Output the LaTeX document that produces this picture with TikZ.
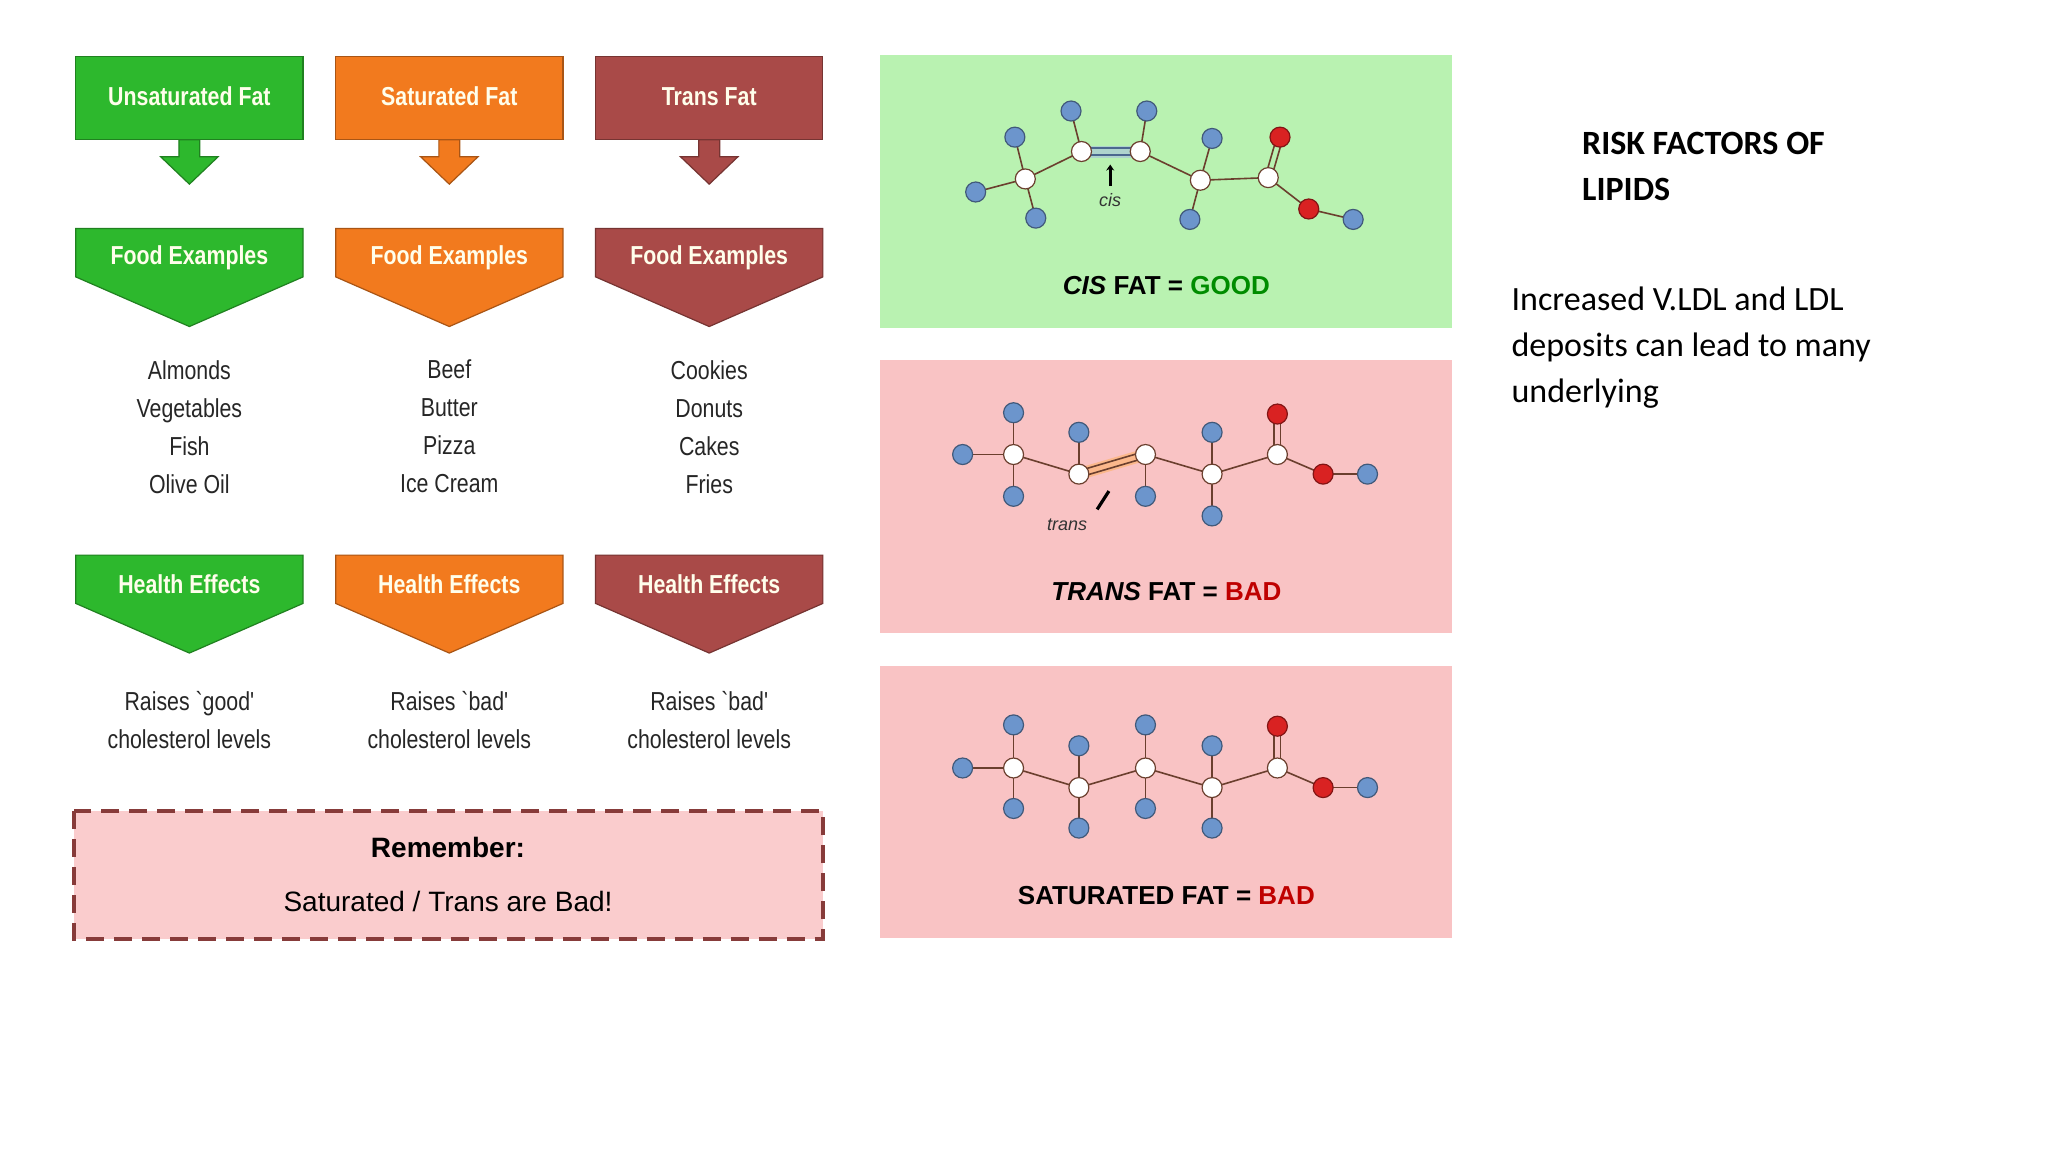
\documentclass[tikz,border=0pt]{standalone}
\usepackage{fontspec}
\usetikzlibrary{arrows.meta}
\setmainfont{Liberation Sans}
\newfontfamily\narrow[FakeStretch=0.82]{Liberation Sans}
\newfontfamily\calib{Carlito}
\definecolor{cgreen}{HTML}{2DB82D}
\definecolor{corange}{HTML}{F27A1E}
\definecolor{cbrown}{HTML}{A94A48}
\definecolor{pgreen}{HTML}{B9F2B1}
\definecolor{ppink}{HTML}{F9C3C4}
\definecolor{hblue}{HTML}{6C95CC}
\definecolor{ored}{HTML}{D92222}
\definecolor{bond}{HTML}{6B3F2E}
\tikzset{
 hat/.style={circle,fill=hblue,draw=hblue!60!black,line width=0.6pt,minimum size=10pt,inner sep=0pt},
 cat/.style={circle,fill=white,draw=bond,line width=0.6pt,minimum size=10pt,inner sep=0pt},
 oat/.style={circle,fill=ored,draw=ored!60!black,line width=0.6pt,minimum size=10pt,inner sep=0pt},
 bd/.style={draw=bond,line width=0.8pt},
 hdr/.style={font=\narrow\bfseries\fontsize{13}{15}\selectfont,text=white!92!yellow},
 item/.style={font=\narrow\fontsize{13}{19}\selectfont,align=center,text=black!85},
 cap/.style={font=\bfseries\fontsize{13}{15}\selectfont}
}
\begin{document}
\begin{tikzpicture}[x=0.653pt,y=-0.653pt]
\useasboundingbox (0,0) rectangle (1568,882);
\fill[white] (0,0) rectangle (1568,882);
% columns
\foreach \c/\col/\ttl/\nm in {145/cgreen/Unsaturated Fat/u,344/corange/Saturated Fat/s,543/cbrown/Trans Fat/t}{
  \fill[\col,draw=\col!70!black,line width=0.6pt] (\c-87,43) rectangle (\c+87,107);
  \node[hdr] (top\nm) at (\c,74) {\ttl};
  \fill[\col,draw=\col!70!black,line width=0.6pt] (\c-8,107) -- (\c-8,120) -- (\c-22,120) -- (\c,141) -- (\c+22,120) -- (\c+8,120) -- (\c+8,107) -- cycle;
  \fill[\col,draw=\col!70!black,line width=0.6pt] (\c-87,175) -- (\c+87,175) -- (\c+87,212) -- (\c,250) -- (\c-87,212) -- cycle;
  \node[hdr] (food\nm) at (\c,197) {Food Examples};
  \fill[\col,draw=\col!70!black,line width=0.6pt] (\c-87,425) -- (\c+87,425) -- (\c+87,462) -- (\c,500) -- (\c-87,462) -- cycle;
  \node[hdr] (hlth\nm) at (\c,447) {Health Effects};
}
\node[item] (lu) at (145,327) {Almonds\\Vegetables\\Fish\\Olive Oil};
\node[item] (ls) at (344,326) {Beef\\Butter\\Pizza\\Ice Cream};
\node[item] (lt) at (543,327) {Cookies\\Donuts\\Cakes\\Fries};
\node[item] (eu) at (145,551) {Raises `good'\\cholesterol levels};
\node[item] (es) at (344,551) {Raises `bad'\\cholesterol levels};
\node[item] (et) at (543,551) {Raises `bad'\\cholesterol levels};
\fill[ppink!85!white] (57,621) rectangle (630,719);
\draw[draw=cbrown!80!black,line width=2pt,dash pattern=on 9pt off 5pt] (57,621) rectangle (630,719);
\node[font=\bfseries\fontsize{14}{16}\selectfont] (rem) at (343,649) {Remember:};
\node[font=\fontsize{14}{16}\selectfont] (rem2) at (343,690) {Saturated / Trans are Bad!};
% panels
\fill[pgreen] (674,42) rectangle (1112,251);
\fill[ppink] (674,276) rectangle (1112,485);
\fill[ppink] (674,510) rectangle (1112,718);
% cis
\foreach \n/\x/\y in {c1/785/137,c2/828/116,c3/873/116,c4/919/138,c5/971/136,h1/747/147,h2/777/105,h3/793/167,h4/820/85,h5/878/85,h6/928/106,h7/911/168,h8/1036/168,o1/980/105,o2/1002/160}
  \coordinate (A\n) at (\x,\y);
\foreach \a/\b in {h1/c1,c1/h2,c1/h3,c1/c2,c2/h4,c3/h5,c3/c4,c4/h6,c4/h7,c4/c5,c5/o2,o2/h8}
  \draw[bd] (A\a) -- (A\b);
\draw[bd] ([xshift=-1.6pt]Ac5) -- ([xshift=-1.6pt]Ao1);
\draw[bd] ([xshift=1.6pt]Ac5) -- ([xshift=1.6pt]Ao1);
\draw[hblue!60!white,line width=6pt,opacity=0.6] (Ac2) -- (Ac3);
\draw[hblue!70!black,line width=0.8pt] ([yshift=1.8pt]Ac2) -- ([yshift=1.8pt]Ac3);
\draw[hblue!70!black,line width=0.8pt] ([yshift=-1.8pt]Ac2) -- ([yshift=-1.8pt]Ac3);
\foreach \n in {c1,c2,c3,c4,c5} \node[cat] (N\n) at (A\n) {};
\foreach \n in {h1,h2,h3,h4,h5,h6,h7,h8} \node[hat] (N\n) at (A\n) {};
\foreach \n in {o1,o2} \node[oat] (N\n) at (A\n) {};
\node[font=\itshape\fontsize{9}{10}\selectfont,text=black!80] (cisl) at (850,153) {cis};
\coordinate (cisa) at (850,126);
\draw[line width=1.4pt,-{Stealth[length=3pt,width=4pt]}] (cisl.north) -- (cisa);
\node[font=\bfseries\fontsize{13}{15}\selectfont] (cist) at (893,219) {\textit{CIS} FAT = \textcolor{green!55!black}{GOOD}};
% trans
\foreach \n/\x/\y in {c1/776/348,c2/826/363,c3/877/348,c4/928/363,c5/978/348,h1/737/348,h2/776/316,h3/776/380,h4/826/331,h5/877/380,h6/928/331,h7/928/395,h8/1047/363,o1/978/317,o2/1013/363}
  \coordinate (B\n) at (\x,\y);
\foreach \a/\b in {h1/c1,c1/h2,c1/h3,c1/c2,c2/h4,c3/h5,c3/c4,c4/h6,c4/h7,c4/c5,c5/o2,o2/h8}
  \draw[bd] (B\a) -- (B\b);
\draw[bd] ([xshift=-1.6pt]Bc5) -- ([xshift=-1.6pt]Bo1);
\draw[bd] ([xshift=1.6pt]Bc5) -- ([xshift=1.6pt]Bo1);
\draw[orange!60!white,line width=6pt,opacity=0.6] (Bc2) -- (Bc3);
\draw[bond,line width=0.8pt] ([xshift=-0.5pt,yshift=-1.8pt]Bc2) -- ([xshift=-0.5pt,yshift=-1.8pt]Bc3);
\draw[bond,line width=0.8pt] ([xshift=0.5pt,yshift=1.8pt]Bc2) -- ([xshift=0.5pt,yshift=1.8pt]Bc3);
\foreach \n in {c1,c2,c3,c4,c5} \node[cat] (M\n) at (B\n) {};
\foreach \n in {h1,h2,h3,h4,h5,h6,h7,h8} \node[hat] (M\n) at (B\n) {};
\foreach \n in {o1,o2} \node[oat] (M\n) at (B\n) {};
\node[font=\itshape\fontsize{9}{10}\selectfont,text=black!80] (trl) at (817,402) {trans};
\coordinate (tra0) at (840,390);
\coordinate (tra) at (849,376);
\draw[line width=1.6pt] (tra0) -- (tra);
\node[font=\bfseries\fontsize{13}{15}\selectfont] (trt) at (893,453) {\textit{TRANS} FAT = \textcolor{red!75!black}{BAD}};
% saturated
\foreach \n/\x/\y in {c1/776/588,c2/826/603,c3/877/588,c4/928/603,c5/978/588,h1/737/588,h2/776/555,h3/776/619,h4/826/571,h5/826/634,h6/877/555,h7/877/619,h8/928/571,h9/928/634,h10/1047/603,o1/978/556,o2/1013/603}
  \coordinate (S\n) at (\x,\y);
\foreach \a/\b in {h1/c1,c1/h2,c1/h3,c1/c2,c2/h4,c2/h5,c2/c3,c3/h6,c3/h7,c3/c4,c4/h8,c4/h9,c4/c5,c5/o2,o2/h10}
  \draw[bd] (S\a) -- (S\b);
\draw[bd] ([xshift=-1.6pt]Sc5) -- ([xshift=-1.6pt]So1);
\draw[bd] ([xshift=1.6pt]Sc5) -- ([xshift=1.6pt]So1);
\foreach \n in {c1,c2,c3,c4,c5} \node[cat] (T\n) at (S\n) {};
\foreach \n in {h1,h2,h3,h4,h5,h6,h7,h8,h9,h10} \node[hat] (T\n) at (S\n) {};
\foreach \n in {o1,o2} \node[oat] (T\n) at (S\n) {};
\node[font=\bfseries\fontsize{13}{15}\selectfont] (sat) at (893,686) {SATURATED FAT = \textcolor{red!75!black}{BAD}};
% right text
\node[font=\calib\bfseries\fontsize{17}{23}\selectfont,anchor=north west,align=left,inner sep=0pt] (risk) at (1211,101) {RISK FACTORS OF\\LIPIDS};
\node[font=\calib\fontsize{17}{23}\selectfont,anchor=north west,align=left,inner sep=0pt] (body) at (1157,219) {Increased V.LDL and LDL\\deposits can lead to many\\underlying};
\end{tikzpicture}
\end{document}
